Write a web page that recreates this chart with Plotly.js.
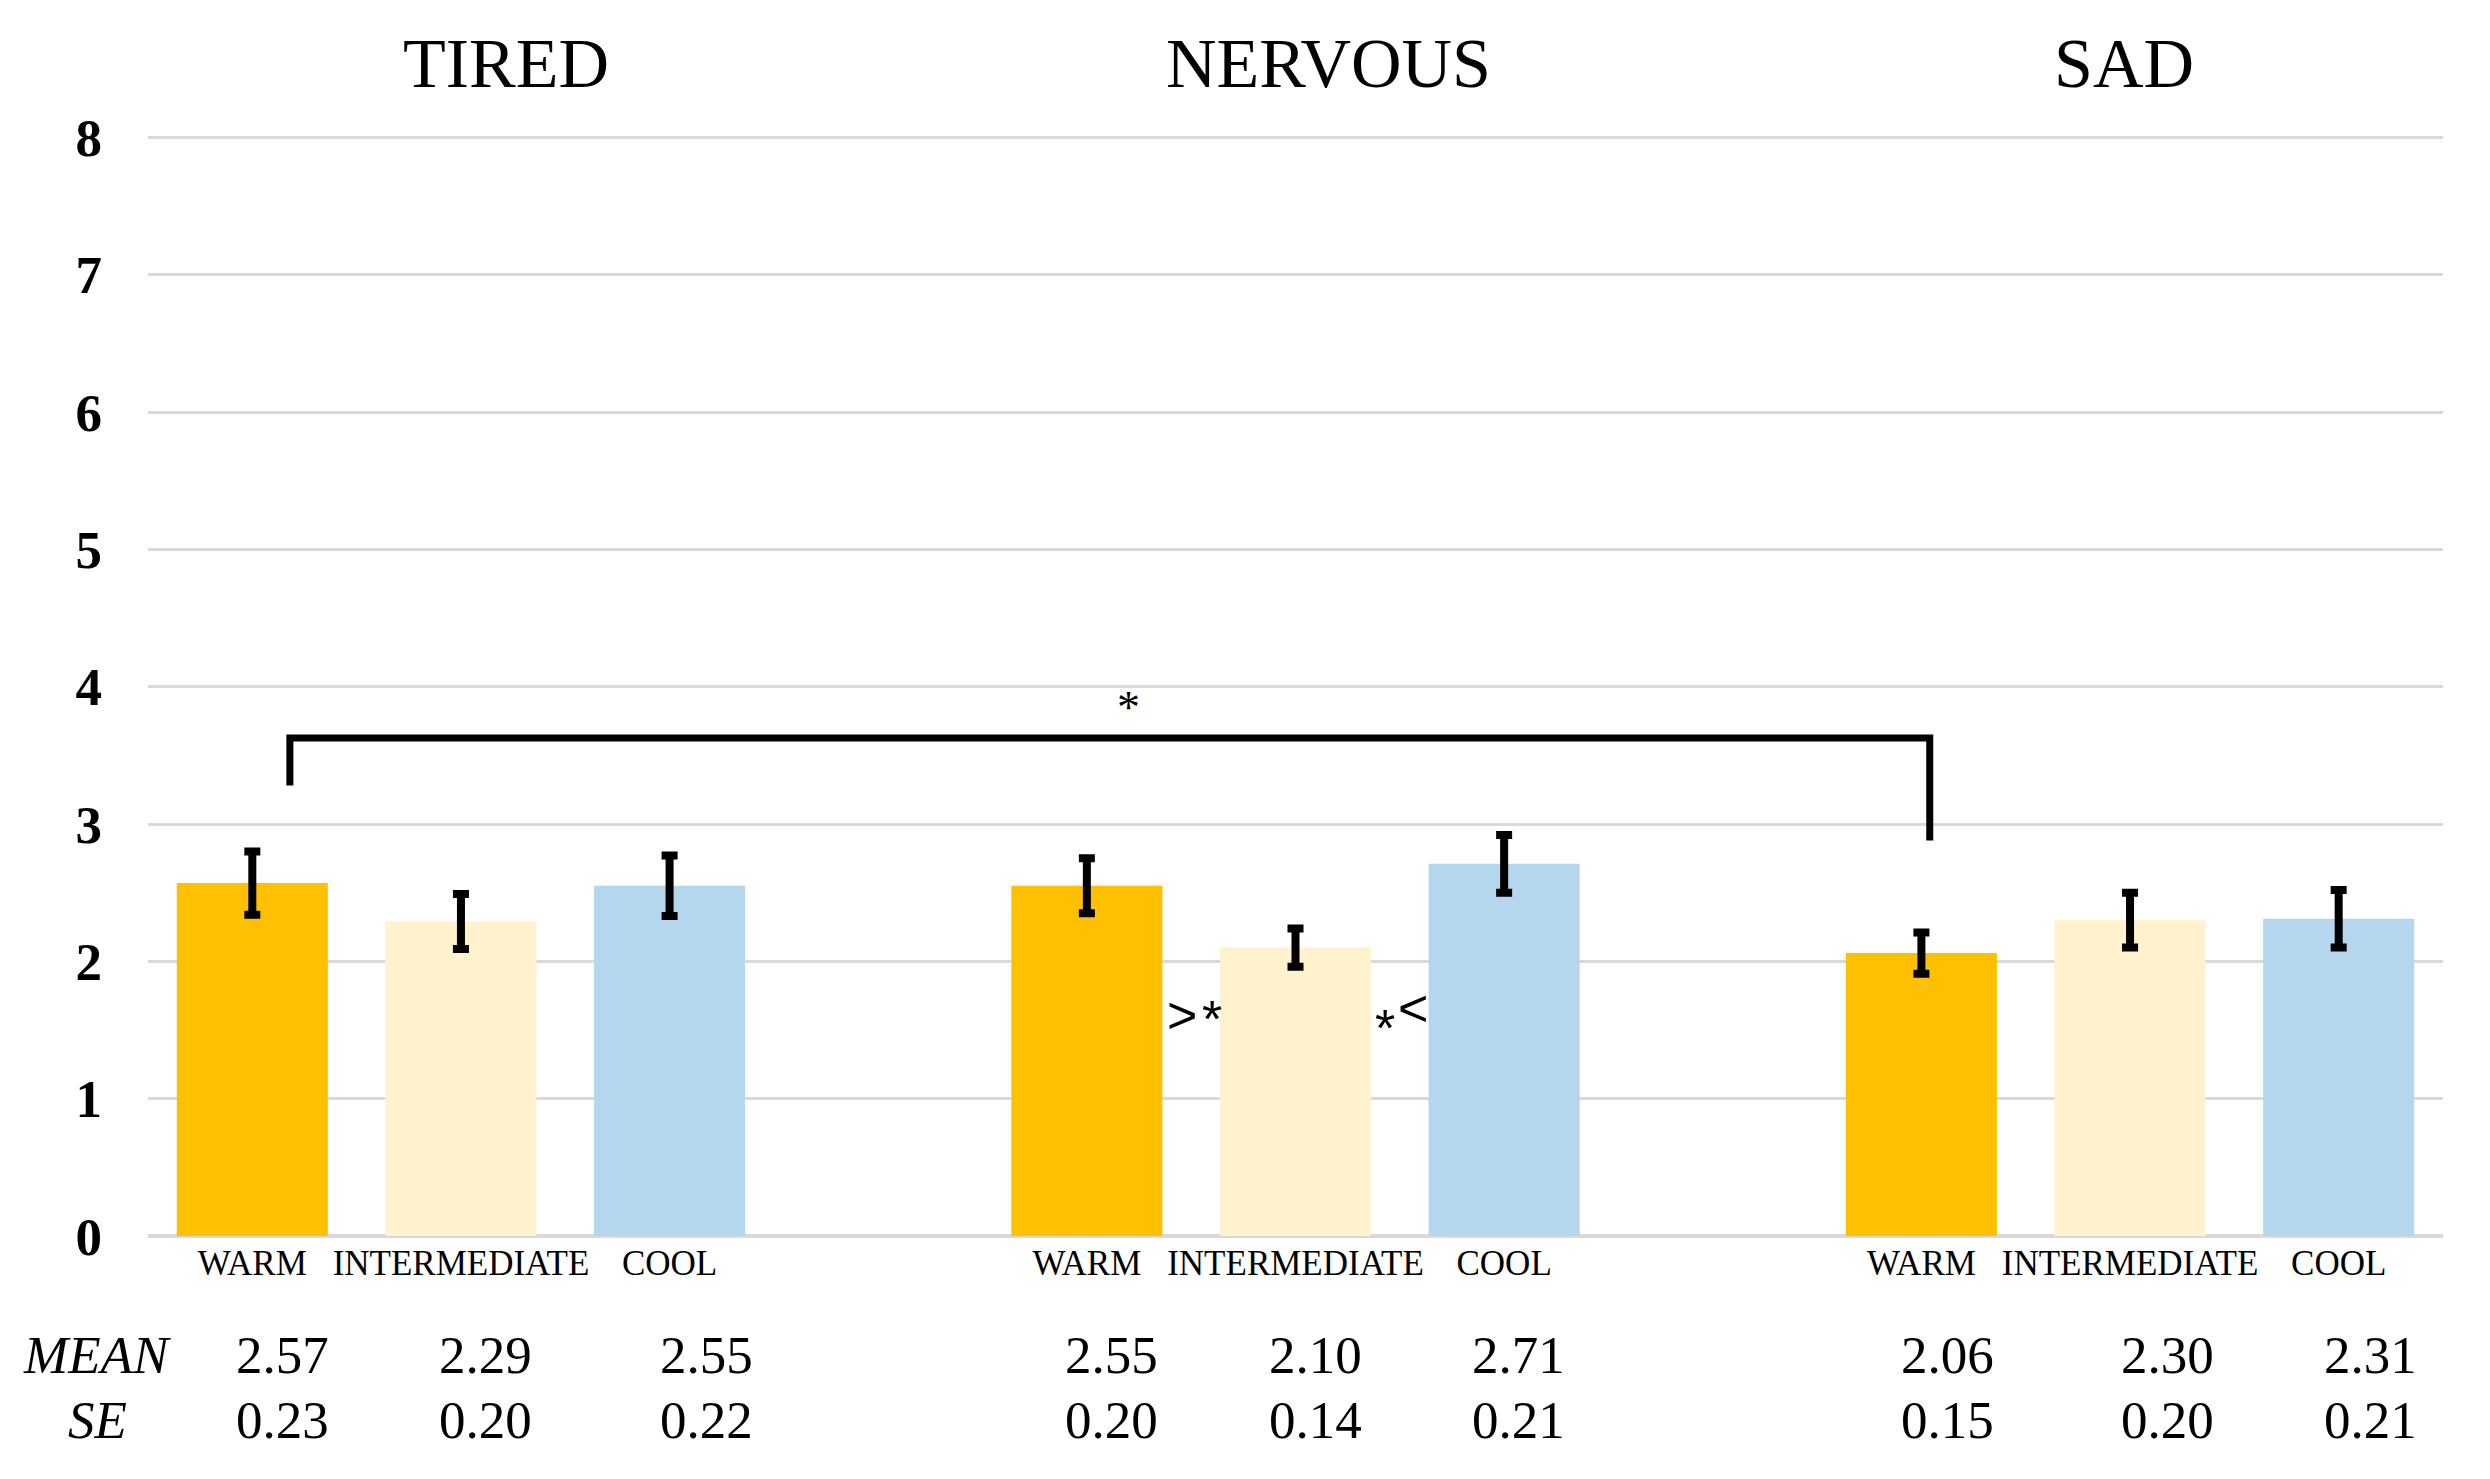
<!DOCTYPE html>
<html>
<head>
<meta charset="utf-8">
<script src="https://cdn.plot.ly/plotly-3.0.1.min.js"></script>
<style>
  html, body { margin: 0; padding: 0; background: #ffffff; }
  #chart { width: 2490px; height: 1479px; }
</style>
</head>
<body>
<div id="chart"></div>
<script>
// ---- data ----
const groups = ['TIRED', 'NERVOUS', 'SAD'];
const conditions = ['WARM', 'INTERMEDIATE', 'COOL'];
const meanTired = [2.57, 2.29, 2.55];
const meanNervous = [2.55, 2.10, 2.71];
const meanSad = [2.06, 2.30, 2.31];
const seTired = [0.23, 0.20, 0.22];
const seNervous = [0.20, 0.14, 0.21];
const seSad = [0.15, 0.20, 0.21];
const yTicks = [0, 1, 2, 3, 4, 5, 6, 7, 8];

// ---- styling ----
const condColors = ['#FFC000', '#FFF2CC', '#B4D7EE'];
const serif = 'Liberation Serif, Times New Roman, serif';
const sans = 'Liberation Sans, Arial, sans-serif';

const means = [meanTired, meanNervous, meanSad];
const ses = [seTired, seNervous, seSad];
const slot = conditions.length + 1;
const pos = (g, c) => g * slot + c;

const traces = conditions.map((cond, c) => ({
  type: 'bar',
  name: cond,
  x: groups.map((g, gi) => pos(gi, c)),
  y: groups.map((g, gi) => means[gi][c]),
  width: 0.724,
  marker: { color: condColors[c], line: { width: 0 } },
  error_y: {
    type: 'data',
    array: groups.map((g, gi) => ses[gi][c]),
    visible: true,
    color: '#000000',
    thickness: 8,
    width: 8
  },
  hoverinfo: 'skip',
  showlegend: false
}));

const tickvals = [], ticktext = [];
groups.forEach((g, gi) => conditions.forEach((cond, c) => {
  tickvals.push(pos(gi, c));
  ticktext.push(cond);
}));

const annotations = [];
// group titles
const titleOffsets = [0.215, 0.16, -0.03];
groups.forEach((g, gi) => {
  annotations.push({
    xref: 'x', yref: 'paper', x: pos(gi, 1) + titleOffsets[gi], y: 1,
    yshift: 73, xanchor: 'center', yanchor: 'middle', showarrow: false,
    text: g, font: { family: serif, size: 70, color: '#000' }
  });
});
// MEAN / SE rows
const rowFont = { family: serif, size: 53, color: '#000' };
annotations.push({
  xref: 'paper', yref: 'paper', x: -0.0221, y: 0, yshift: -119,
  xanchor: 'center', yanchor: 'middle', showarrow: false,
  text: '<i>MEAN</i>', font: rowFont
});
annotations.push({
  xref: 'paper', yref: 'paper', x: -0.0221, y: 0, yshift: -184,
  xanchor: 'center', yanchor: 'middle', showarrow: false,
  text: '<i>SE</i>', font: rowFont
});
const rowShift = [[30, 25, 37], [25, 20, 14], [26, 37, 32]];
groups.forEach((g, gi) => conditions.forEach((cond, c) => {
  annotations.push({
    xref: 'x', yref: 'paper', x: pos(gi, c), y: 0, xshift: rowShift[gi][c], yshift: -119,
    xanchor: 'center', yanchor: 'middle', showarrow: false,
    text: means[gi][c].toFixed(2), font: rowFont
  });
  annotations.push({
    xref: 'x', yref: 'paper', x: pos(gi, c), y: 0, xshift: rowShift[gi][c], yshift: -184,
    xanchor: 'center', yanchor: 'middle', showarrow: false,
    text: ses[gi][c].toFixed(2), font: rowFont
  });
}));

// significance bracket (TIRED WARM vs SAD WARM)
const bx0 = pos(0, 0) + 0.18, bx1 = pos(2, 0) + 0.04;
const bTop = 3.627;
annotations.push({
  xref: 'x', yref: 'y', x: 4.20, y: 3.845,
  xanchor: 'center', yanchor: 'middle', showarrow: false,
  text: '*', font: { family: serif, size: 46, color: '#000' }
});
// pairwise markers in NERVOUS group
const sigFont = { family: sans, size: 52, color: '#000' };
annotations.push({ xref: 'x', yref: 'y', x: pos(1, 0) + 0.457, y: 1.61, xanchor: 'center', yanchor: 'middle',
  showarrow: false, text: '>', font: sigFont });
annotations.push({ xref: 'x', yref: 'y', x: pos(1, 0) + 0.60, y: 1.58, xanchor: 'center', yanchor: 'middle',
  showarrow: false, text: '*', font: sigFont });
annotations.push({ xref: 'x', yref: 'y', x: pos(1, 1) + 0.43, y: 1.515, xanchor: 'center', yanchor: 'middle',
  showarrow: false, text: '*', font: sigFont });
annotations.push({ xref: 'x', yref: 'y', x: pos(1, 1) + 0.564, y: 1.66, xanchor: 'center', yanchor: 'middle',
  showarrow: false, text: '<', font: sigFont });

const shapes = [{
  type: 'path', xref: 'x', yref: 'y',
  path: `M ${bx0},3.28 L ${bx0},${bTop} L ${bx1},${bTop} L ${bx1},2.88`,
  line: { color: '#000000', width: 7 }
}];

const layout = {
  width: 2490, height: 1479,
  margin: { l: 148, r: 47, t: 136, b: 243 },
  paper_bgcolor: '#ffffff', plot_bgcolor: '#ffffff',
  showlegend: false,
  xaxis: {
    range: [-0.5, groups.length * slot - 1.5],
    tickvals: tickvals, ticktext: ticktext,
    tickfont: { family: serif, size: 35, color: '#000' },
    ticks: '', ticklabelstandoff: 3,
    showgrid: false, zeroline: false, showline: false,
    fixedrange: true
  },
  yaxis: {
    range: [0, 8.01],
    tickvals: yTicks,
    tickfont: { family: serif, size: 53, color: '#000', weight: 'bold' },
    ticks: '', ticklabelstandoff: 45,
    showgrid: true, gridcolor: '#D9D9D9', gridwidth: 3,
    zeroline: true, zerolinecolor: '#D9D9D9', zerolinewidth: 4,
    showline: false, fixedrange: true
  },
  annotations: annotations,
  shapes: shapes
};

Plotly.newPlot('chart', traces, layout, { displayModeBar: false, staticPlot: true });
</script>
</body>
</html>
